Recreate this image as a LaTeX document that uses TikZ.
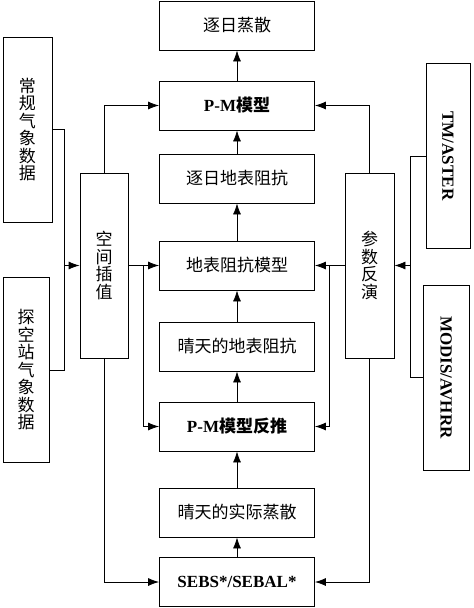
\documentclass[tikz,border=0pt]{standalone}
\usepackage{fontspec}
\setmainfont{Liberation Serif}
\newfontfamily\cjk{Noto Sans CJK SC}
\usetikzlibrary{arrows.meta,positioning}
\tikzset
{
    flowbox/.style = {rectangle, draw=black, line width=0.8pt, align=center, minimum width=155pt, minimum height=49pt, font=\cjk\fontsize{17}{17.5}\selectfont},
    sidebox/.style = {rectangle, draw=black, line width=0.8pt, align=center, minimum width=48pt, minimum height=185pt, inner sep=0pt, font=\cjk\fontsize{17}{17.5}\selectfont},
    satbox/.style  = {sidebox, minimum width=44pt, font=\rmfamily\bfseries\fontsize{17}{17.5}\selectfont},
    link/.style    = {line width=0.8pt, >={Latex[length=11pt,width=8pt]}}
}
\newcommand{\lat}[1]{{\rmfamily\bfseries #1}}

\begin{document}
\begin{tikzpicture}[x=1pt, y=-1pt]
\useasboundingbox (0,0) rectangle (474,608);
% central column
\node (etday)		[flowbox]							at (237,25.5)		{逐日蒸散};
\node (pm)			[flowbox]							at (237,105.5)	{\lat{P-M}\textbf{模型}};
\node (rsday)		[flowbox]							at (237,178.5)	{逐日地表阻抗};
\node (rsmod)		[flowbox]							at (237,265.5)	{地表阻抗模型};
\node (rsclear)	[flowbox]							at (237,346.5)	{晴天的地表阻抗};
\node (pminv)		[flowbox]							at (237,426.5)	{\lat{P-M}\textbf{模型反推}};
\node (etclear)	[flowbox]							at (237,512.5)	{晴天的实际蒸散};
\node (sebs)		[flowbox]							at (237,582)		{\lat{SEBS*/SEBAL*}};
% left side
\node (conv)		[sidebox,minimum width=49pt]	at (27.5,129.5)	{常\\规\\气\\象\\数\\据};
\node (sound)		[sidebox,minimum width=46pt]	at (26,370)			{探\\空\\站\\气\\象\\数\\据};
\node (interp)	[sidebox]							at (104,265.5)	{空\\间\\插\\值};
% right side
\node (inv)			[sidebox,minimum width=49pt]	at (369.5,265.5)	{参\\数\\反\\演};
\node (tm)			[satbox]							at (448,156)		{\rotatebox{-90}{TM/ASTER}};
\node (modis)		[satbox,minimum width=46pt]	at (446,377.5)	{\rotatebox{-90}{MODIS/AVHRR}};

\coordinate (lmerge)	at (64,265.5);
\coordinate (lsplit)	at (143,265.5);
\coordinate (rmerge)	at (410,265.5);
\coordinate (rsplit)	at (329,265.5);

\path[link]
(pm.north)			edge[->]		(etday.south)
(rsday.north)		edge[->]		(pm.south)
(rsmod.north)		edge[->]		(rsday.south)
(rsclear.north)	edge[->]		(rsmod.south)
(pminv.north)		edge[->]		(rsclear.south)
(etclear.north)	edge[->]		(pminv.south)
(sebs.north)		edge[->]		(etclear.south);

\draw[link] (conv.east) -| (lmerge);
\draw[link] (sound.east) -| (lmerge);
\draw[link,->] (lmerge) -- (interp.west);
\draw[link,->] (interp.north) |- (pm.west);
\draw[link,->] (interp.east) -- (rsmod.west);
\draw[link,->] (lsplit) |- (pminv.west);
\draw[link,->] (interp.south) |- (sebs.west);

\draw[link] (tm.west) -| (rmerge);
\draw[link] (modis.west) -| (rmerge);
\draw[link,->] (rmerge) -- (inv.east);
\draw[link,->] (inv.north) |- (pm.east);
\draw[link,->] (inv.west) -- (rsmod.east);
\draw[link,->] (rsplit) |- (pminv.east);
\draw[link,->] (inv.south) |- (sebs.east);
\end{tikzpicture}
\end{document}
